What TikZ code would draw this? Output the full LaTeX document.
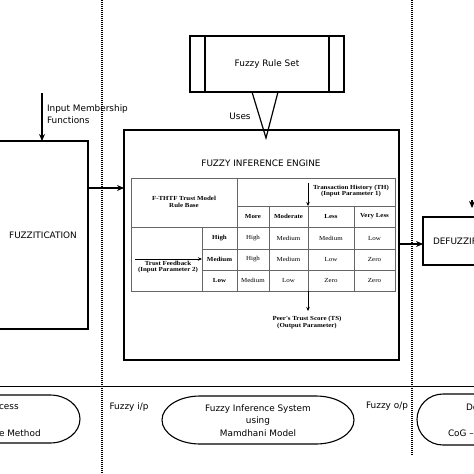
\documentclass[tikz,border=0pt]{standalone}
\usepackage{fontspec}
\usetikzlibrary{arrows.meta,calc}
\newfontfamily\vsans{DejaVu Sans}
\newfontfamily\tms[FakeStretch=1.12]{Liberation Serif}
\begin{document}
\begin{tikzpicture}[x=1pt,y=-1pt,
  every node/.style={inner sep=0pt, outer sep=0pt},
  txt/.style={font=\vsans\fontsize{8.9}{12.5}\selectfont, align=center},
  box/.style={draw, line width=1.2pt},
  arr/.style={line width=1.1pt, -{Stealth[length=7pt,width=6pt]}},
  tarr/.style={line width=0.9pt, -{Stealth[length=4pt,width=3.5pt]}},
  thead/.style={font=\tms\bfseries\fontsize{6.2}{6.8}\selectfont, align=center},
  tval/.style={font=\tms\fontsize{6.2}{6.8}\selectfont},
  tline/.style={draw=black!60, line width=0.6pt},
  sep/.style={line width=1.1pt, dash pattern=on 1pt off 1pt},
  stad/.style={line width=1.1pt},
]
\useasboundingbox (0,0) rectangle (474,474);
\clip (0,0) rectangle (474,474);
\fill[white] (0,0) rectangle (474,474);

% separators
\draw[sep] (102,0) -- (102,474);
\draw[sep] (412,0) -- (412,455);
\draw[line width=1pt] (0,386) -- (474,386);

% helper coordinates
\coordinate (y188) at (0,188);
\coordinate (y244) at (0,244);
\coordinate (y206) at (0,206);
\coordinate (x202) at (202,0);

% fuzzification
\node[box, minimum width=90pt, minimum height=188pt, txt] (fuzz) at (43,235) {FUZZITICATION};
\coordinate (imf) at (42,93);
\draw[arr] (imf) -- (imf |- fuzz.north);
\node[txt, align=left, anchor=west] (imft) at (47,114) {Input Membership\\Functions};

% inference engine
\node[box, minimum width=275pt, minimum height=230pt] (fie) at (261.5,245) {};
\node[txt] (fiet) at (261,163) {FUZZY INFERENCE ENGINE};

% rule set
\node[box, minimum width=154pt, minimum height=56pt, txt] (rs) at (267,64) {Fuzzy Rule Set};
\draw[line width=1.2pt] ($(rs.north west)+(15,0)$) -- ($(rs.south west)+(15,0)$);
\draw[line width=1.2pt] ($(rs.north east)+(-15,0)$) -- ($(rs.south east)+(-15,0)$);
\draw[line width=1.2pt, line join=miter] ($(rs.south)+(-15,0)$) -- ($(fie.north)+(4.5,8)$) -- ($(rs.south)+(11,0)$);
\node[txt] (uses) at (240,116) {Uses};

% defuzzification
\node[box, txt, anchor=west, minimum height=48pt, inner xsep=10pt] (def) at (423,241) {DEFUZZIFICATION};
\coordinate (omf) at (472,200);
\draw[arr] (omf) -- ++(0,8);

% connectors
\draw[arr] (fuzz.east |- y188) -- (fie.west |- y188);
\draw[arr] (fie.east |- y244) -- (def.west |- y244);

% table
\draw[tline] (131,178) rectangle (395,291);
\draw[tline] (237,178) -- (237,291);
\draw[tline] (202,227) -- (202,291);
\foreach \x in {269,308,354} \draw[tline] (\x,206) -- (\x,291);
\draw[tline] (237,206) -- (395,206);
\draw[tline] (131,227) -- (395,227);
\draw[tline] (202,249) -- (395,249);
\draw[tline] (202,270) -- (395,270);

\node[thead] (rb) at (184,202) {F-THTF Trust Model\\Rule Base};
\node[thead] (th) at (351,191) {Transaction History (TH)\\(Input Parameter 1)};
\node[thead] (c1) at (253,216.5) {More};
\node[thead] (c2) at (288.5,216.5) {Moderate};
\node[thead] (c3) at (331,216.5) {Less};
\node[thead] (c4) at (374.5,216.5) {Very Less};
\node[thead] (r1) at (219.5,238) {High};
\node[thead] (r2) at (219.5,259.5) {Medium};
\node[thead] (r3) at (219.5,280.5) {Low};

\node[tval] (v11) at (253,238) {High};
\node[tval] (v12) at (288.5,238) {Medium};
\node[tval] (v13) at (331,238) {Medium};
\node[tval] (v14) at (374.5,238) {Low};
\node[tval] (v21) at (253,259.5) {High};
\node[tval] (v22) at (288.5,259.5) {Medium};
\node[tval] (v23) at (331,259.5) {Low};
\node[tval] (v24) at (374.5,259.5) {Zero};
\node[tval] (v31) at (253,280.5) {Medium};
\node[tval] (v32) at (288.5,280.5) {Low};
\node[tval] (v33) at (331,280.5) {Zero};
\node[tval] (v34) at (374.5,280.5) {Zero};

\coordinate (tha) at (308,183);
\draw[tarr] (tha) -- (tha |- y206);
\coordinate (tfa) at (135,259);
\draw[tarr] (tfa) -- (tfa -| x202);
\node[thead] (tf) at (168,267) {Trust Feedback\\(Input Parameter 2)};
\coordinate (tsa) at (308,291);
\coordinate (tsb) at (308,311);
\draw[tarr] (tsa) -- (tsb);
\node[thead] (ts) at (307,322.5) {Peer's Trust Score (TS)\\(Output Parameter)};

% bottom row
\draw[stad] (-10,395) -- (50,395) arc[start angle=-90,end angle=90,x radius=30,y radius=24] -- (-10,443);
\node[txt, anchor=west] (lc1) at (-1,407) {cess};
\node[txt, anchor=west] (lc2) at (-1,433) {e Method};

\node[txt] (fip) at (129,407) {Fuzzy i/p};
\draw[stad] (200,396) -- (316,396) arc[start angle=-90,end angle=90,x radius=38,y radius=24] -- (200,444) arc[start angle=90,end angle=270,x radius=38,y radius=24] -- cycle;
\node[txt] (fis) at (258,420.5) {Fuzzy Inference System\\using\\Mamdhani Model};
\node[txt] (fop) at (387,406) {Fuzzy o/p};

\draw[stad] (484,394) -- (443,394) arc[start angle=270,end angle=90,x radius=26,y radius=25.5] -- (484,445);
\node[txt, anchor=west] (rc1) at (466,407) {De};
\node[txt, anchor=west] (rc2) at (448,433) {CoG –};
\end{tikzpicture}
\end{document}
